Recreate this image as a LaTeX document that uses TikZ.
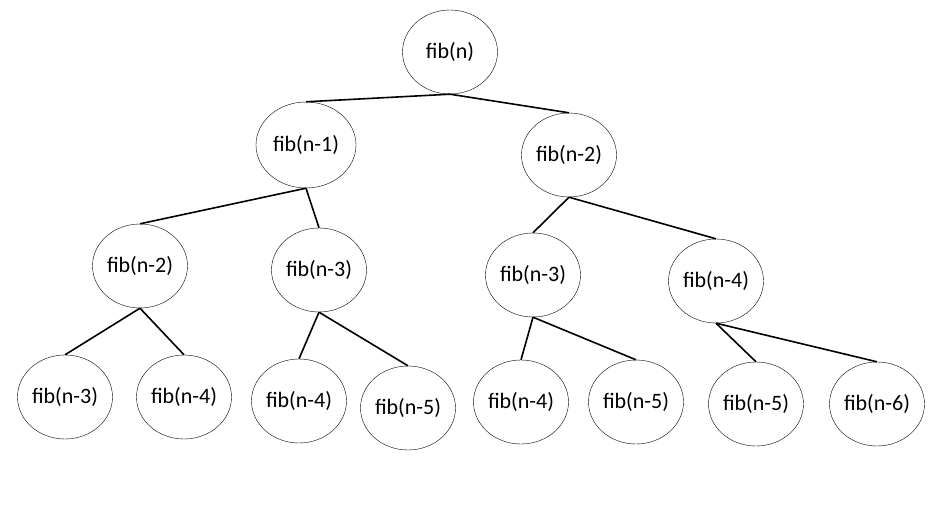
\documentclass[tikz,border=0pt]{standalone}
\usepackage{fontspec}
\setmainfont{Carlito}
\usetikzlibrary{shapes.geometric}
\tikzset{
  call/.style={ellipse, draw, thin, inner sep=0pt, minimum width=95pt, minimum height=84pt, font=\fontsize{22}{22}\selectfont},
  link/.style={line width=1.6pt}
}
\begin{document}
\begin{tikzpicture}[x=1pt,y=-1pt]
  \useasboundingbox (0,0) rectangle (937,522);
  % calls
  \node[call] (n) at (450,52) {fib(n)};
  \node[call, minimum width=100pt, minimum height=86pt] (n1) at (306,145) {fib(n-1)};
  \node[call] (n2) at (569,155) {fib(n-2)};
  \node[call] (a2) at (140,266) {fib(n-2)};
  \node[call] (a3) at (319,270) {fib(n-3)};
  \node[call] (b3) at (533,275) {fib(n-3)};
  \node[call] (b4) at (716,281) {fib(n-4)};
  \node[call] (c3) at (65,397) {fib(n-3)};
  \node[call] (c4) at (184,397) {fib(n-4)};
  \node[call] (d4) at (299,401) {fib(n-4)};
  \node[call] (d5) at (408,408) {fib(n-5)};
  \node[call] (e4) at (521,402) {fib(n-4)};
  \node[call] (e5) at (636,402) {fib(n-5)};
  \node[call] (f5) at (756,404) {fib(n-5)};
  \node[call] (f6) at (877,404) {fib(n-6)};
  % links
  \foreach \p/\c in {n/n1, n/n2, n1/a2, n1/a3, n2/b3, n2/b4,
                     a2/c3, a2/c4, a3/d4, a3/d5, b3/e4, b3/e5, b4/f5, b4/f6}
    \draw[link] (\p.south) -- (\c.north);
\end{tikzpicture}
\end{document}
